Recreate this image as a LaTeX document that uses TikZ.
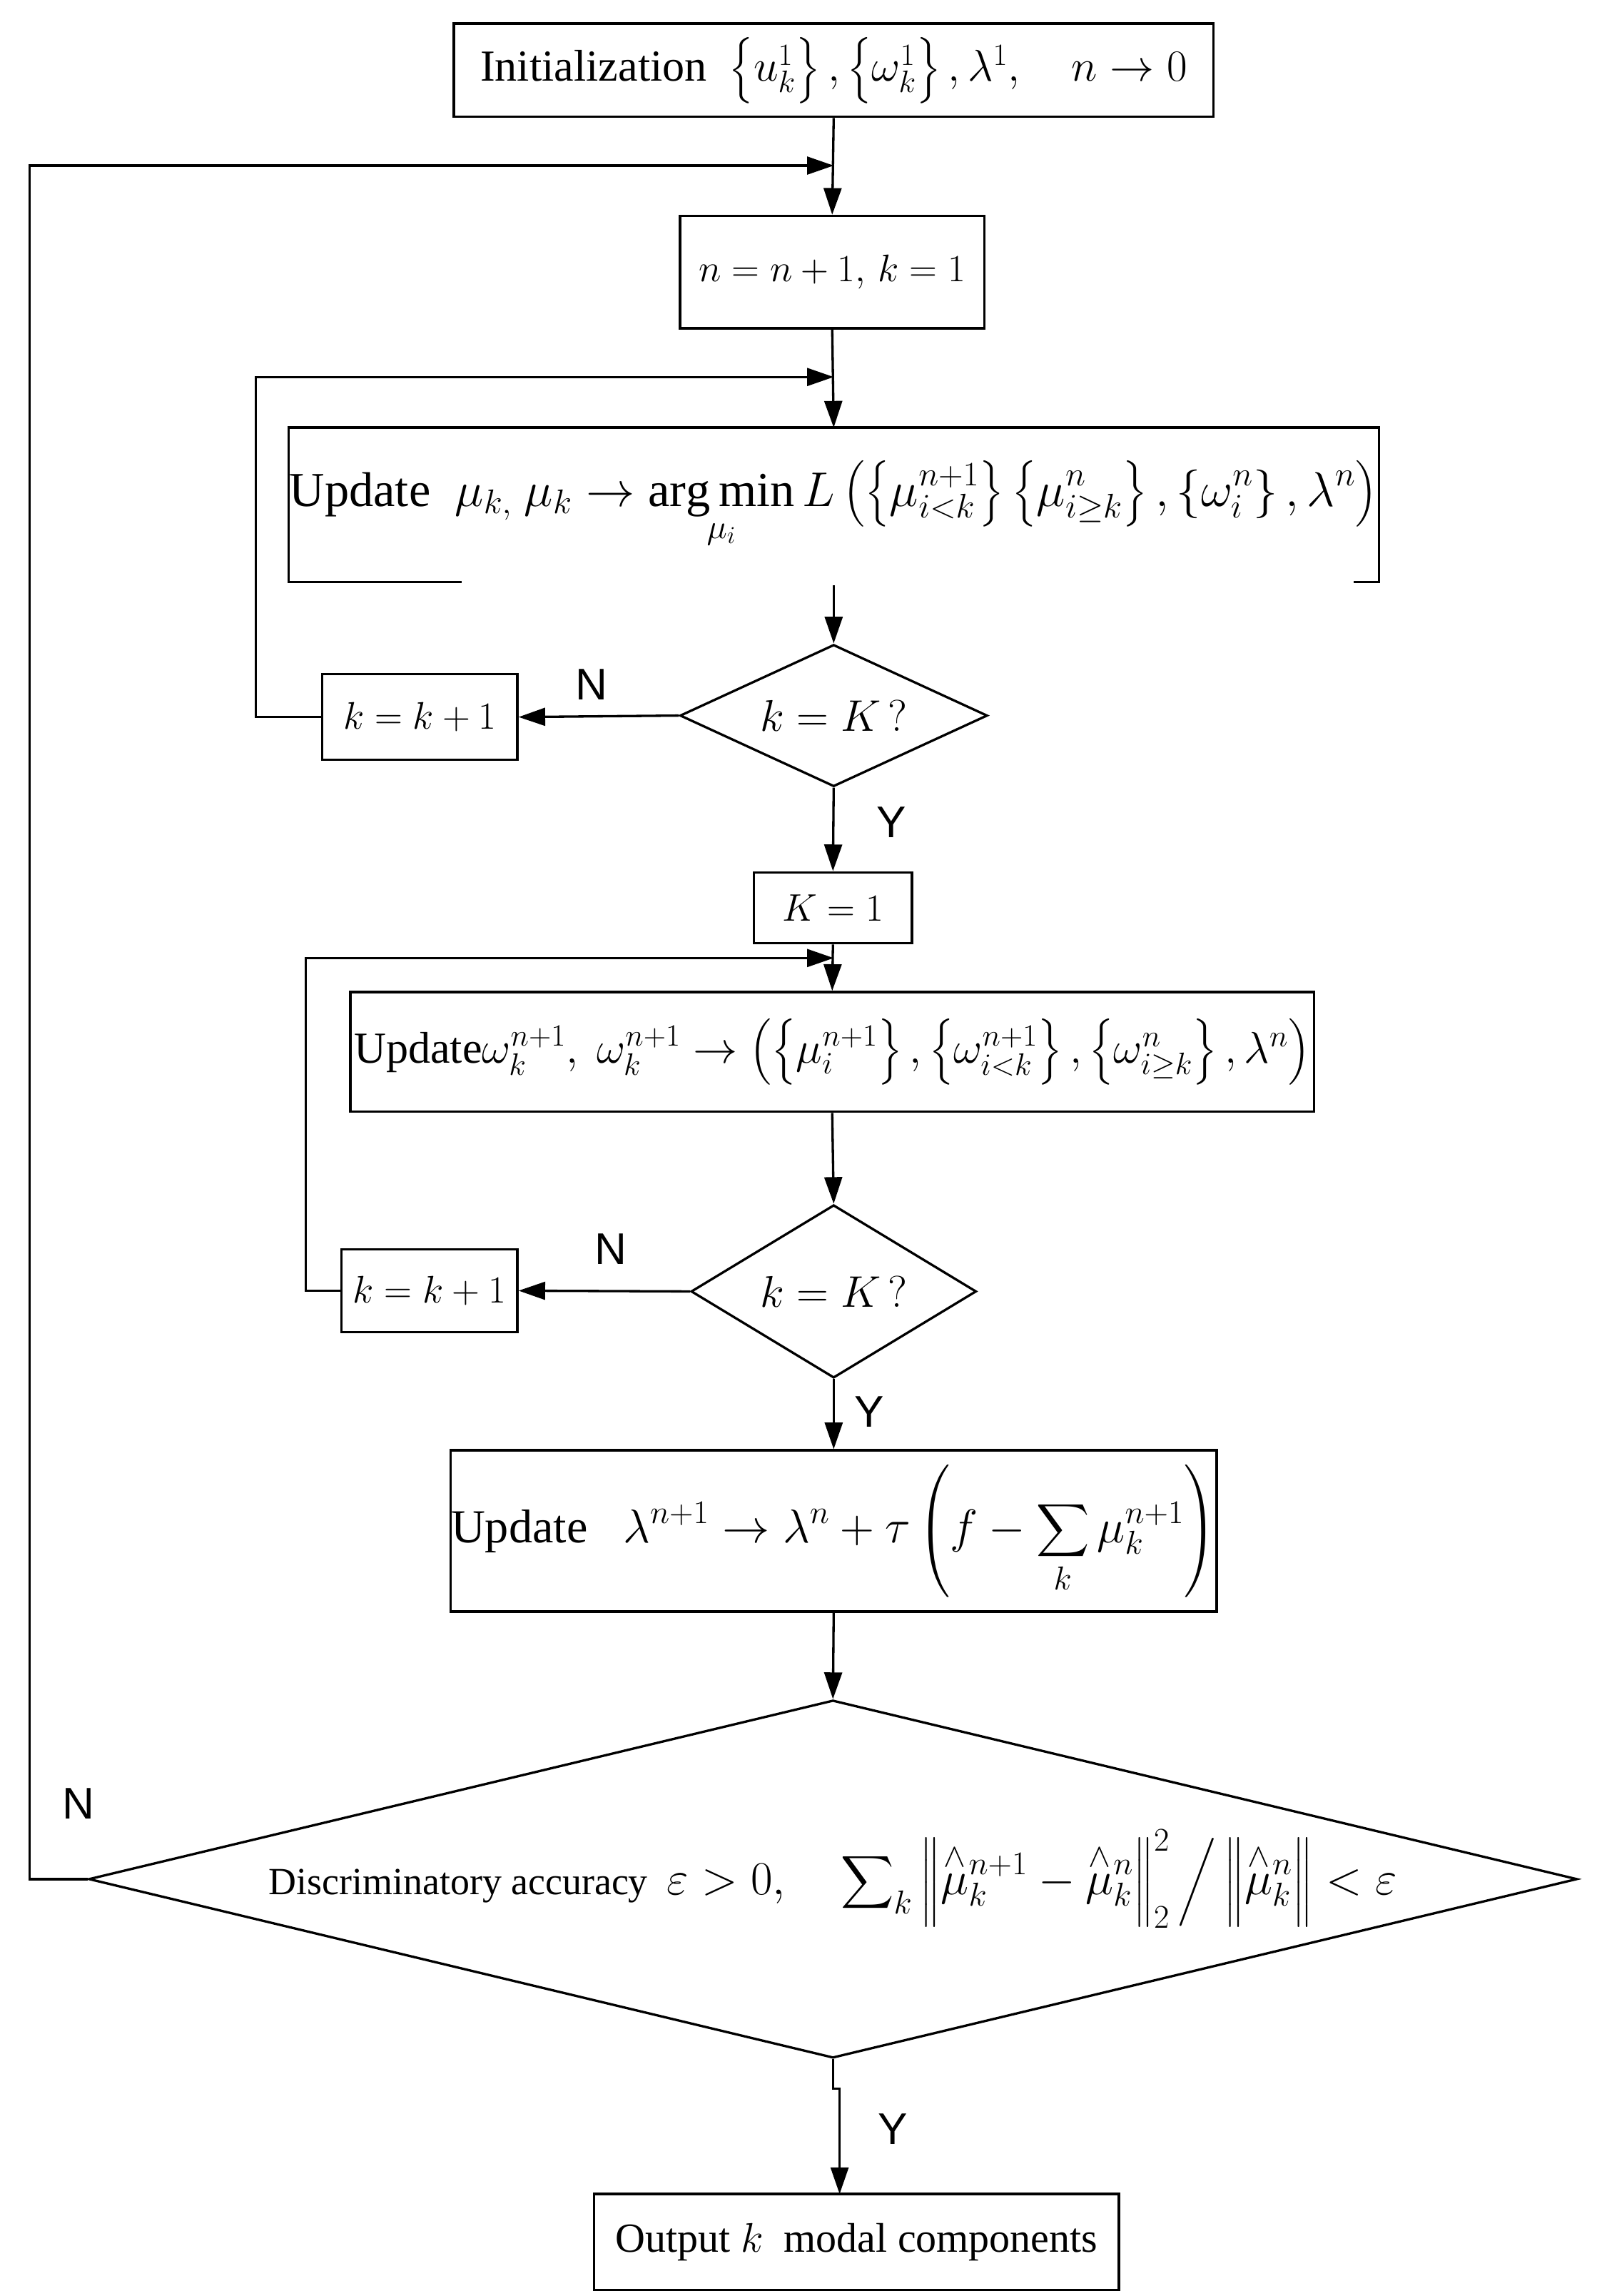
\documentclass[tikz,border=0pt]{standalone}
\usepackage{fix-cm}
\usepackage{amsmath}
\usepackage{fontspec}
\setmainfont{Liberation Serif}
\newfontfamily\yn{Liberation Sans}
\usetikzlibrary{shapes.geometric,arrows.meta}
\begin{document}
\begin{tikzpicture}[x=1pt,y=-1pt,line width=1.6pt,
  box/.style={draw,inner sep=0pt,font=\fontsize{30}{36}\selectfont},
  sm/.style={font=\fontsize{26}{32}\selectfont},
  dia/.style={draw,diamond,inner sep=0pt},
  arr/.style={-{Triangle[length=18pt,width=12pt]}},
  lab/.style={font=\yn\fontsize{30}{36}\selectfont}]
\useasboundingbox (0,0) rectangle (1080,1553);
\node[box,minimum width=514pt,minimum height=63pt] (init) at (564,47.5) {Initialization\ \ $\left\{u_k^1\right\},\left\{\omega_k^1\right\},\lambda^1,\quad n\to 0$};
\node[box,sm,minimum width=206pt,minimum height=76pt] (nn) at (563,184) {$n=n+1,\,k=1$};
\node[box,draw=none,minimum width=732pt,minimum height=103pt,font=\fontsize{33}{40}\selectfont] (up) at (564,341.5) {Update\ \ $\displaystyle \mu_{k,}\ \mu_k\to\mathop{\arg\min}\limits_{\mu_i} L\left(\left\{\mu_{i<k}^{n+1}\right\}\left\{\mu_{i\ge k}^n\right\},\left\{\omega_i^n\right\},\lambda^n\right)$};
\draw (up.south west) ++(117,0) -- (up.south west) -- (up.north west) -- (up.north east) -- (up.south east) -- ++(-17,0);
\node[dia,minimum width=208pt,minimum height=96pt] (d1) at (564,484) {};
\node[font=\fontsize{30}{36}\selectfont] at (d1) {$k=K\,?$};
\node[box,sm,minimum width=132pt,minimum height=58pt] (k1) at (284,485) {$k=k+1$};
\node[box,sm,minimum width=107pt,minimum height=48pt] (K1) at (563.5,614) {$K=1$};
\node[box,minimum width=652pt,minimum height=81pt] (uo) at (563,711.5) {Update$\omega_k^{n+1},\ \omega_k^{n+1}\to\left(\left\{\mu_i^{n+1}\right\},\left\{\omega_{i<k}^{n+1}\right\},\left\{\omega_{i\ge k}^n\right\},\lambda^n\right)$};
\node[dia,minimum width=193pt,minimum height=117pt] (d2) at (564,873.5) {};
\node[font=\fontsize{30}{36}\selectfont] at (d2) {$k=K\,?$};
\node[box,sm,minimum width=119pt,minimum height=56pt] (k2) at (290.5,873) {$k=k+1$};
\node[box,minimum width=518pt,minimum height=109pt,font=\fontsize{32}{40}\selectfont] (ul) at (564,1035.5) {Update\ \ \ $\displaystyle\lambda^{n+1}\to\lambda^n+\tau\left(f-\sum_k\mu_k^{n+1}\right)$};
\node[dia,minimum width=1007pt,minimum height=242pt] (d3) at (563.5,1271) {};
\node[font=\fontsize{26}{32}\selectfont] at (d3) {Discriminatory accuracy\ \ {\fontsize{32}{38}\selectfont$\displaystyle\varepsilon>0,\quad \sum\nolimits_k\left\|\overset{\wedge}{\mu}{}_k^{n+1}-\overset{\wedge}{\mu}{}_k^{n}\right\|_2^2\Big/\left\|\overset{\wedge}{\mu}{}_k^{n}\right\|<\varepsilon$}};
\node[box,minimum width=355pt,minimum height=65pt,font=\fontsize{28}{34}\selectfont] (out) at (579.5,1516.5) {Output $k$\ \ modal components};
\coordinate (j1) at (564,112);
\coordinate (j2) at (564,255);
\coordinate (j3) at (564,648);
% main flow
\draw[arr] (init.south) -- (nn.north);
\draw[arr] (nn.south) -- (up.north);
\draw[arr] (564,396) -- (d1.north);
\draw[arr] (d1.south) -- (K1.north);
\draw[arr] (K1.south) -- (uo.north);
\draw[arr] (uo.south) -- (d2.north);
\draw[arr] (d2.south) -- (ul.north);
\draw[arr] (ul.south) -- (d3.north);
\draw[arr] (d3.south) -- ++(0,20) -| (568,1484);
% loops
\draw[arr] (d1.west) -- (k1.east);
\draw[arr] (k1.west) -- (173,485) -- (173,255) -- (j2);
\draw[arr] (d2.west) -- (k2.east);
\draw[arr] (k2.west) -- (207,873) -- (207,648) -- (j3);
\draw[arr] (d3.west) -- (20,1271) -- (20,112) -- (j1);
% labels
\node[lab] at (400,463) {N};
\node[lab] at (603,556) {Y};
\node[lab] at (413,845) {N};
\node[lab] at (588,955) {Y};
\node[lab] at (53,1220) {N};
\node[lab] at (604,1440) {Y};
\end{tikzpicture}
\end{document}
